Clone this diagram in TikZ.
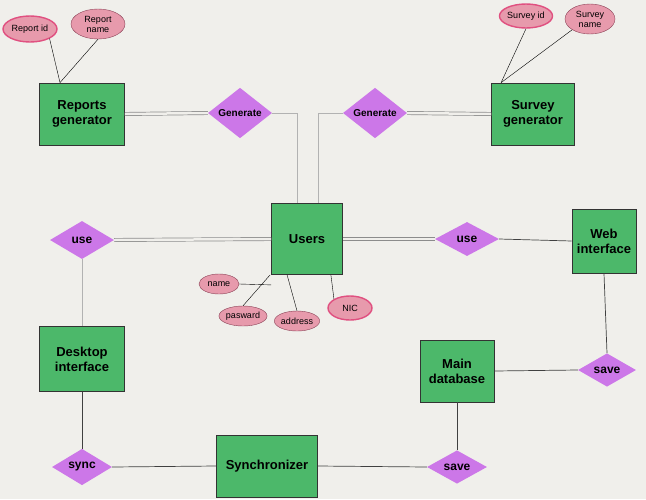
\documentclass[tikz,border=0pt]{standalone}
\usepackage{fontspec}
\setmainfont{Liberation Sans}
\usetikzlibrary{shapes.geometric}
\definecolor{bg}{HTML}{F0EFEB}
\definecolor{ent}{HTML}{4CB86A}
\definecolor{rel}{HTML}{CC77E8}
\definecolor{att}{HTML}{E79AAC}
\definecolor{attb}{HTML}{8A4055}
\definecolor{keyb}{HTML}{E05080}
\begin{document}
\begin{tikzpicture}[x=1pt,y=-1pt,
 entity/.style={draw=black!80,fill=ent,line width=0.8pt,font=\bfseries\fontsize{13}{15}\selectfont,align=center,inner sep=0},
 relbox/.style={diamond,fill=rel,inner sep=0,font=\bfseries\fontsize{12}{14}\selectfont},
 attrib/.style={ellipse,draw=attb,fill=att,inner sep=0,font=\fontsize{9}{10}\selectfont,align=center},
 keyattr/.style={attrib,draw=keyb,line width=1.4pt},
 dbl/.style={draw=black!45,double=bg,double distance=2.5pt,line width=0.7pt},
 sgl/.style={draw=black!75,line width=0.7pt},
 lgt/.style={draw=black!30,line width=0.7pt},
 thin/.style={draw=black,line width=0.4pt}]
\fill[bg] (0,0) rectangle (646,499);
\useasboundingbox (0,0) rectangle (646,499);
% entities
\node[entity,minimum width=85,minimum height=62] (rg) at (82,114) {Reports\\generator};
\node[entity,minimum width=83,minimum height=62] (sg) at (533,114) {Survey\\generator};
\node[entity,minimum width=71,minimum height=71] (us) at (307,239) {Users};
\node[entity,minimum width=64,minimum height=64] (wi) at (604,241) {Web\\interface};
\node[entity,minimum width=85,minimum height=65] (di) at (82,359) {Desktop\\interface};
\node[entity,minimum width=74,minimum height=62] (md) at (457,371) {Main\\database};
\node[entity,minimum width=101,minimum height=62] (sy) at (267,466) {Synchronizer};
% relations
\node[relbox,minimum width=64,minimum height=30,font=\bfseries\fontsize{10}{12}\selectfont] (g1) at (240,113) {Generate};
\node[relbox,minimum width=64,minimum height=30,font=\bfseries\fontsize{10}{12}\selectfont] (g2) at (375,113) {Generate};
\node[relbox,minimum width=64,minimum height=38] (u1) at (82,240) {use};
\node[relbox,minimum width=64,minimum height=34] (u2) at (467,239) {use};
\node[relbox,minimum width=58,minimum height=30] (s1) at (607,370) {save};
\node[relbox,minimum width=60,minimum height=30] (sc) at (82,467) {sync};
\node[relbox,minimum width=60,minimum height=30] (s2) at (457,467) {save};
% attributes
\node[keyattr,minimum width=54,minimum height=26] (rid) at (30,29) {Report id};
\node[attrib,minimum width=54,minimum height=30] (rnm) at (98,24) {Report\\name};
\node[keyattr,minimum width=52,minimum height=24] (sid) at (526,16) {Survey id};
\node[attrib,minimum width=50,minimum height=30] (snm) at (590,19) {Survey\\name};
\node[attrib,minimum width=40,minimum height=20] (anm) at (219,284) {name};
\node[attrib,minimum width=44,minimum height=20] (apw) at (243,316) {pasward};
\node[attrib,minimum width=44,minimum height=20] (aad) at (297,321) {address};
\node[keyattr,minimum width=44,minimum height=24] (anic) at (350,308) {NIC};
% connectors
\draw[dbl] (rg.east) -- (g1.west);
\draw[dbl] (sg.west) -- (g2.east);
\draw[dbl] (us.west) -- (u1.east);
\draw[dbl] (us.east) -- (u2.west);
\draw[lgt] (g1.east) -| ([xshift=-10pt]us.north);
\draw[lgt] (g2.west) -| ([xshift=11pt]us.north);
\draw[sgl] (u2.east) -- (wi.west);
\draw[lgt] (u1.south) -- (di.north);
\draw[sgl] (di.south) -- (sc.north);
\draw[sgl] (sc.east) -- (sy.west);
\draw[sgl] (sy.east) -- (s2.west);
\draw[sgl] (s2.north) -- (md.south);
\draw[sgl] (md.east) -- (s1.west);
\draw[sgl] (s1.north) -- (wi.south);
\draw[thin] (rid.south east) -- ([xshift=-22pt]rg.north);
\draw[thin] (rnm.south) -- ([xshift=-22pt]rg.north);
\draw[thin] (sid.south) -- ([xshift=10pt]sg.north west);
\draw[thin] (snm.south west) -- ([xshift=10pt]sg.north west);
\draw[thin] (anm.east) -- ([yshift=-10pt]us.south west);
\draw[thin] (apw.north) -- ([xshift=-1pt]us.south west);
\draw[thin] (aad.north) -- ([xshift=16pt]us.south west);
\draw[thin] (anic.north west) -- ([xshift=-12pt]us.south east);
\end{tikzpicture}
\end{document}
